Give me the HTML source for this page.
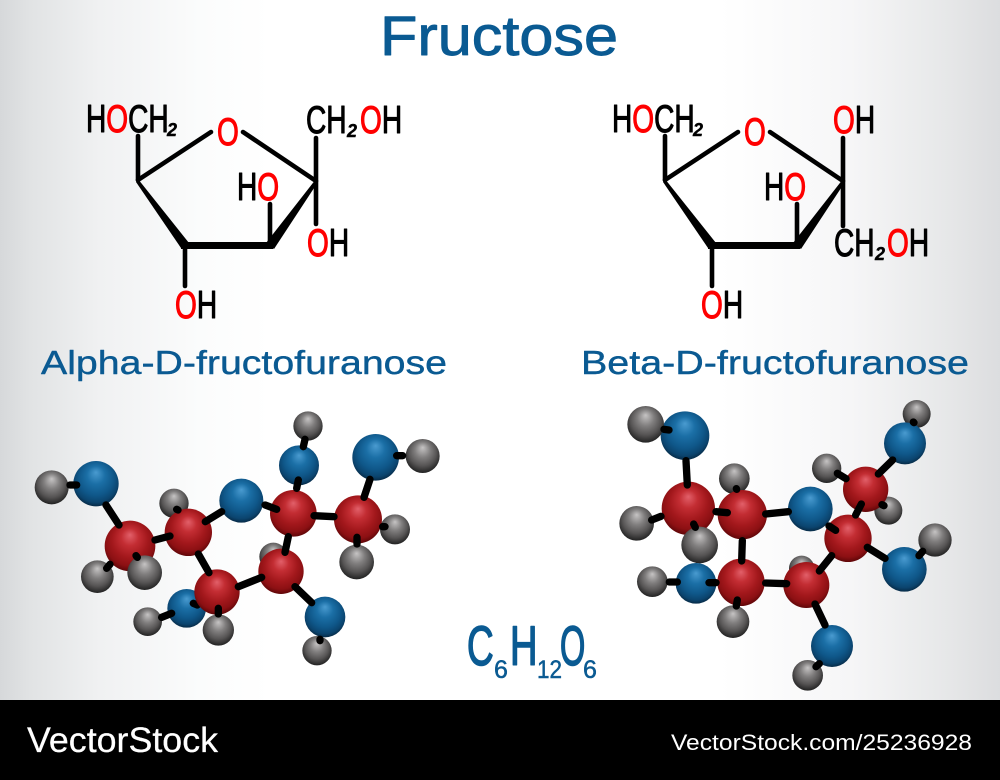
<!DOCTYPE html>
<html><head><meta charset="utf-8"><style>
html,body{margin:0;padding:0;background:#fff}
svg{display:block}
text{font-family:"Liberation Sans",sans-serif;stroke-linejoin:round}
.k{fill:#000;stroke:#000}.r{fill:#f00;stroke:#f00}
.s{font-size:39px;stroke-width:1.1px}
.b line{stroke:#000;stroke-width:22;stroke-linecap:round}
.sub{font-size:18px;font-weight:bold;font-style:italic;fill:#000;stroke:#000;stroke-width:.4px}
.h{fill:url(#gg)}.c{fill:url(#gr)}.o{fill:url(#gb)}
.bl{fill:#0a5a92;stroke:#0a5a92}
</style></head><body>
<svg width="1000" height="780" viewBox="0 0 1000 780" xmlns="http://www.w3.org/2000/svg">
<defs>
<linearGradient id="bg" x1="0" x2="1" y1="0" y2="0">
<stop offset="0" stop-color="#d6d8da"/><stop offset=".03" stop-color="#e1e3e4"/><stop offset=".1" stop-color="#f0f1f2"/><stop offset=".2" stop-color="#fbfcfc"/><stop offset=".27" stop-color="#fff"/><stop offset=".72" stop-color="#fff"/><stop offset=".85" stop-color="#f6f6f7"/><stop offset=".95" stop-color="#e6e7e8"/><stop offset="1" stop-color="#dcdddf"/>
</linearGradient>
<radialGradient id="gr" cx=".5" cy=".43" r=".57" fx=".5" fy=".28">
<stop offset="0" stop-color="#e2606a"/><stop offset=".3" stop-color="#c32d33"/><stop offset=".62" stop-color="#a3181c"/><stop offset=".85" stop-color="#8c1013"/><stop offset="1" stop-color="#5f0608"/>
</radialGradient>
<radialGradient id="gb" cx=".5" cy=".43" r=".57" fx=".5" fy=".25">
<stop offset="0" stop-color="#4a9bd0"/><stop offset=".35" stop-color="#1b6fa6"/><stop offset=".68" stop-color="#0f5789"/><stop offset=".88" stop-color="#0b446e"/><stop offset="1" stop-color="#072b47"/>
</radialGradient>
<radialGradient id="gg" cx=".5" cy=".43" r=".57" fx=".5" fy=".25">
<stop offset="0" stop-color="#c6c4c4"/><stop offset=".4" stop-color="#807e7e"/><stop offset=".72" stop-color="#565454"/><stop offset="1" stop-color="#222"/>
</radialGradient>
</defs>
<rect width="1000" height="700" fill="url(#bg)"/>
<rect y="700" width="1000" height="80" fill="#000"/>

<text class="bl" x="380" y="55" font-size="56" stroke-width=".9" textLength="238" lengthAdjust="spacingAndGlyphs">Fructose</text>

<!-- alpha structure -->
<g id="alpha">
<g stroke="#000" stroke-width="4.6" fill="none" stroke-linecap="round">
<line x1="138" y1="136" x2="138" y2="180"/>
<line x1="138" y1="180" x2="211" y2="132"/>
<line x1="243" y1="132" x2="316" y2="181"/>
<line x1="316" y1="138" x2="316" y2="224"/>
<line x1="270" y1="204" x2="270" y2="245"/>
<line x1="185" y1="245" x2="185" y2="286"/>
</g>
<polygon points="138,179 136,182 181,248 189,243" fill="#000"/>
<polygon points="181,242 273,242 273,249 181,249" fill="#000"/>
<polygon points="316,179 318,182 274,249 266,243" fill="#000"/>
<g class="s">
<text transform="translate(86,132) scale(.72,1)"><tspan class="k">H</tspan><tspan class="r">O</tspan><tspan class="k">CH</tspan></text>
<text x="167" y="136" class="sub">2</text>
<text transform="translate(217,145) scale(.72,1)" class="r">O</text>
<text transform="translate(306,133) scale(.72,1)" class="k">CH</text>
<text x="347" y="137" class="sub">2</text>
<text transform="translate(360,133) scale(.72,1)"><tspan class="r">O</tspan><tspan class="k">H</tspan></text>
<text transform="translate(237,200) scale(.72,1)"><tspan class="k">H</tspan><tspan class="r">O</tspan></text>
<text transform="translate(307,256) scale(.72,1)"><tspan class="r">O</tspan><tspan class="k">H</tspan></text>
<text transform="translate(175,318) scale(.72,1)"><tspan class="r">O</tspan><tspan class="k">H</tspan></text>
</g>
</g>

<!-- beta structure -->
<g id="beta">
<g stroke="#000" stroke-width="4.6" fill="none" stroke-linecap="round">
<line x1="665" y1="136" x2="665" y2="180"/>
<line x1="665" y1="180" x2="738" y2="132"/>
<line x1="770" y1="132" x2="843" y2="181"/>
<line x1="843" y1="138" x2="843" y2="226"/>
<line x1="797" y1="204" x2="797" y2="245"/>
<line x1="712" y1="245" x2="712" y2="286"/>
</g>
<polygon points="665,179 663,182 708,248 716,243" fill="#000"/>
<polygon points="708,242 800,242 800,249 708,249" fill="#000"/>
<polygon points="843,179 845,182 801,249 793,243" fill="#000"/>
<g class="s">
<text transform="translate(612,132) scale(.72,1)"><tspan class="k">H</tspan><tspan class="r">O</tspan><tspan class="k">CH</tspan></text>
<text x="693" y="136" class="sub">2</text>
<text transform="translate(744,145) scale(.72,1)" class="r">O</text>
<text transform="translate(833,133) scale(.72,1)"><tspan class="r">O</tspan><tspan class="k">H</tspan></text>
<text transform="translate(764,200) scale(.72,1)"><tspan class="k">H</tspan><tspan class="r">O</tspan></text>
<text transform="translate(834,256) scale(.72,1)" class="k">CH</text>
<text x="875" y="260" class="sub">2</text>
<text transform="translate(887,256) scale(.72,1)"><tspan class="r">O</tspan><tspan class="k">H</tspan></text>
<text transform="translate(701,318) scale(.72,1)"><tspan class="r">O</tspan><tspan class="k">H</tspan></text>
</g>
</g>

<text class="bl" x="41" y="374" font-size="33" stroke-width=".4" textLength="406" lengthAdjust="spacingAndGlyphs">Alpha-D-fructofuranose</text>
<text class="bl" x="581" y="374" font-size="33" stroke-width=".4" textLength="388" lengthAdjust="spacingAndGlyphs">Beta-D-fructofuranose</text>

<!-- left molecule -->
<g transform="translate(20,390) scale(.33333)">
<circle class="h" cx="760" cy="500" r="42"/>
<circle class="c" cx="783" cy="544" r="68"/>
<circle class="h" cx="462" cy="340" r="44"/>
<circle class="o" cx="228" cy="281" r="68"/>
<circle class="h" cx="95" cy="292" r="51"/>
<circle class="c" cx="330" cy="468" r="76"/>
<circle class="h" cx="232" cy="560" r="49"/>
<circle class="h" cx="374" cy="548" r="52"/>
<circle class="c" cx="505" cy="427" r="71"/>
<circle class="o" cx="664" cy="332" r="66"/>
<circle class="h" cx="864" cy="108" r="44"/>
<circle class="o" cx="837" cy="226" r="60"/>
<circle class="c" cx="820" cy="370" r="70"/>
<circle class="h" cx="1208" cy="198" r="51"/>
<circle class="o" cx="1067" cy="202" r="70"/>
<circle class="h" cx="1125" cy="418" r="45"/>
<circle class="c" cx="1014" cy="388" r="72"/>
<circle class="h" cx="1010" cy="516" r="52"/>
<circle class="o" cx="500" cy="655" r="58"/>
<circle class="h" cx="383" cy="695" r="43"/>
<g class="b"><line x1="425" y1="682" x2="455" y2="670"/><line x1="520" y1="640" x2="532" y2="645"/></g>
<circle class="c" cx="591" cy="606" r="68"/>
<circle class="h" cx="595" cy="720" r="47"/>
<circle class="h" cx="891" cy="782" r="44"/>
<circle class="o" cx="915" cy="681" r="61"/>
<g class="b">
<line x1="150" y1="285" x2="170" y2="285"/>
<line x1="258" y1="345" x2="297" y2="405"/>
<line x1="260" y1="535" x2="270" y2="523"/>
<line x1="348" y1="497" x2="352" y2="502"/>
<line x1="405" y1="450" x2="450" y2="438"/>
<line x1="470" y1="358" x2="474" y2="360"/>
<line x1="556" y1="395" x2="605" y2="365"/>
<line x1="735" y1="345" x2="770" y2="358"/>
<line x1="830" y1="295" x2="835" y2="270"/>
<line x1="850" y1="170" x2="855" y2="148"/>
<line x1="882" y1="377" x2="942" y2="380"/>
<line x1="1032" y1="322" x2="1050" y2="268"/>
<line x1="1130" y1="197" x2="1148" y2="197"/>
<line x1="1088" y1="410" x2="1095" y2="410"/>
<line x1="1011" y1="442" x2="1011" y2="462"/>
<line x1="795" y1="487" x2="805" y2="440"/>
<line x1="655" y1="590" x2="725" y2="562"/>
<line x1="535" y1="492" x2="567" y2="548"/>
<line x1="595" y1="655" x2="595" y2="672"/>
<line x1="825" y1="590" x2="875" y2="638"/>
<line x1="900" y1="748" x2="900" y2="752"/>
</g>
</g>

<!-- right molecule -->
<g transform="translate(600,390) scale(.33333)">
<circle class="h" cx="605" cy="535" r="38"/>
<circle class="h" cx="403" cy="266" r="46"/>
<circle class="o" cx="255" cy="137" r="73"/>
<circle class="h" cx="137" cy="103" r="55"/>
<circle class="c" cx="265" cy="355" r="80"/>
<circle class="h" cx="110" cy="400" r="52"/>
<circle class="h" cx="299" cy="465" r="55"/>
<circle class="c" cx="427" cy="374" r="74"/>
<circle class="h" cx="950" cy="72" r="42"/>
<circle class="o" cx="915" cy="160" r="63"/>
<circle class="h" cx="680" cy="235" r="44"/>
<circle class="h" cx="865" cy="362" r="42"/>
<circle class="c" cx="797" cy="298" r="68"/>
<circle class="o" cx="631" cy="357" r="67"/>
<circle class="c" cx="744" cy="445" r="71"/>
<circle class="h" cx="1005" cy="450" r="50"/>
<circle class="o" cx="913" cy="538" r="67"/>
<circle class="c" cx="619" cy="585" r="69"/>
<circle class="h" cx="157" cy="575" r="46"/>
<circle class="o" cx="288" cy="580" r="61"/>
<circle class="c" cx="423" cy="577" r="71"/>
<circle class="h" cx="399" cy="695" r="49"/>
<circle class="h" cx="623" cy="856" r="46"/>
<circle class="o" cx="696" cy="768" r="63"/>
<g class="b">
<line x1="192" y1="118" x2="207" y2="120"/>
<line x1="258" y1="212" x2="262" y2="285"/>
<line x1="155" y1="390" x2="183" y2="379"/>
<line x1="281" y1="402" x2="286" y2="412"/>
<line x1="409" y1="296" x2="410" y2="298"/>
<line x1="348" y1="365" x2="382" y2="368"/>
<line x1="497" y1="372" x2="565" y2="365"/>
<line x1="687" y1="408" x2="707" y2="421"/>
<line x1="767" y1="375" x2="784" y2="342"/>
<line x1="712" y1="250" x2="738" y2="266"/>
<line x1="846" y1="344" x2="852" y2="347"/>
<line x1="835" y1="252" x2="878" y2="210"/>
<line x1="940" y1="96" x2="942" y2="98"/>
<line x1="802" y1="472" x2="855" y2="505"/>
<line x1="957" y1="497" x2="968" y2="484"/>
<line x1="658" y1="543" x2="695" y2="497"/>
<line x1="427" y1="452" x2="425" y2="513"/>
<line x1="497" y1="579" x2="560" y2="581"/>
<line x1="208" y1="576" x2="232" y2="576"/>
<line x1="327" y1="578" x2="348" y2="578"/>
<line x1="412" y1="630" x2="409" y2="648"/>
<line x1="645" y1="642" x2="675" y2="705"/>
<line x1="648" y1="830" x2="658" y2="821"/>
</g>
</g>

<text class="bl" transform="translate(467,665) scale(.66,1)" font-size="56" stroke-width="1.6">C</text>
<text class="bl" transform="translate(494,678)" font-size="25" stroke-width=".5">6</text>
<text class="bl" transform="translate(510,665) scale(.68,1)" font-size="56" stroke-width="1.6">H</text>
<text class="bl" transform="translate(537,678) scale(.9,1)" font-size="25" stroke-width=".5">12</text>
<text class="bl" transform="translate(560,665) scale(.58,1)" font-size="56" stroke-width="1.6">O</text>
<text class="bl" transform="translate(583,678)" font-size="25" stroke-width=".5">6</text>

<text x="27" y="752" font-size="35" fill="#fff" stroke="#fff" stroke-width=".25" textLength="191" lengthAdjust="spacingAndGlyphs">VectorStock</text>
<text x="671" y="750" font-size="22" fill="#fff" textLength="301" lengthAdjust="spacingAndGlyphs">VectorStock.com/25236928</text>
</svg>
</body></html>
